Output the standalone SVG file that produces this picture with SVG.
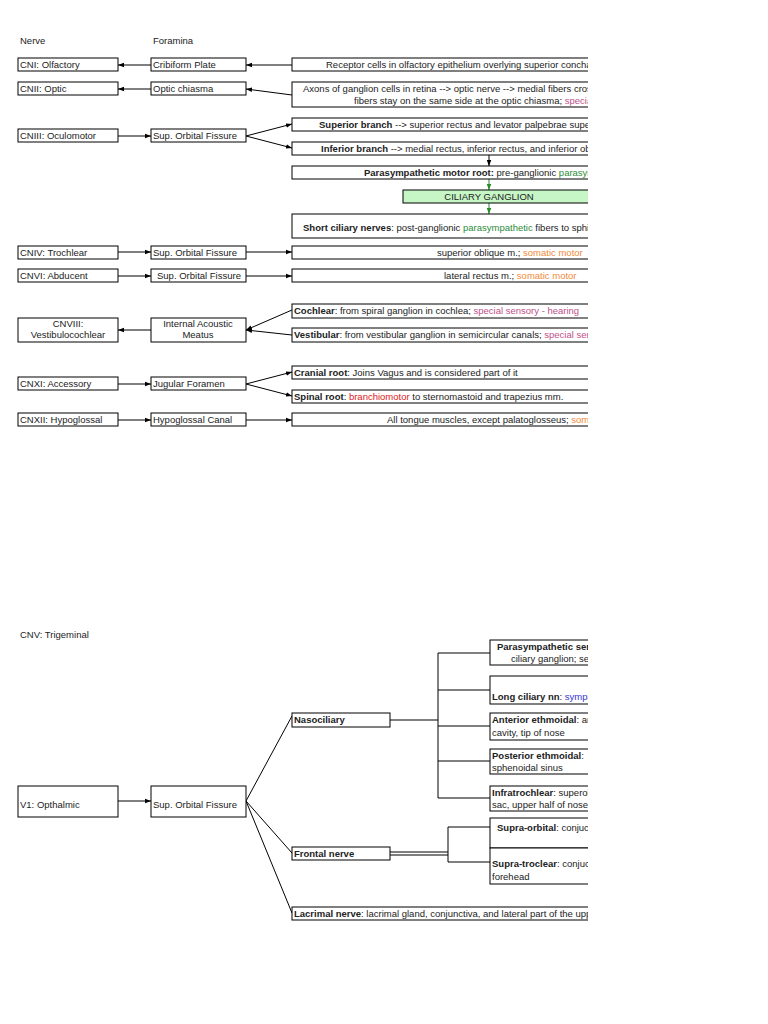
<svg xmlns="http://www.w3.org/2000/svg" width="768" height="1024" viewBox="0 0 768 1024">
<style>
text{font-family:"Liberation Sans",Arial,sans-serif;font-size:9.5px;fill:#222}
.b{font-weight:bold}
rect{fill:#fff;stroke:#000;stroke-width:1}
.g{fill:#c6f5c6}
line,polyline{stroke:#000;stroke-width:1;fill:none}
.gl{stroke:#2a8a2a}
.ss{fill:#c0508a}.sm{fill:#f08a3a}.ps{fill:#2e8b3a}.bm{fill:#e02020}.sy{fill:#3434d0}
</style>
<defs>
<marker id="a" viewBox="0 0 8 8" refX="8" refY="4" markerWidth="6" markerHeight="6" orient="auto"><path d="M0,1L8,4L0,7z" fill="#000"/></marker>
<marker id="ag" viewBox="0 0 8 8" refX="8" refY="4" markerWidth="6" markerHeight="6" orient="auto"><path d="M0,1L8,4L0,7z" fill="#2a8a2a"/></marker>
<clipPath id="c"><rect x="0" y="0" width="588" height="1024"/></clipPath>
</defs>
<rect x="0" y="0" width="768" height="1024" style="fill:#fff;stroke:none"/>
<text x="20" y="44">Nerve</text>
<text x="153" y="44">Foramina</text>
<text x="20" y="638">CNV: Trigeminal</text>
<g id="connectors">
<line x1="151" y1="65" x2="118" y2="65" marker-end="url(#a)"/>
<line x1="292" y1="65" x2="246" y2="65" marker-end="url(#a)"/>
<line x1="151" y1="89" x2="118" y2="89" marker-end="url(#a)"/>
<line x1="292" y1="95" x2="246" y2="89" marker-end="url(#a)"/>
<line x1="118" y1="136" x2="151" y2="136" marker-end="url(#a)"/>
<line x1="246" y1="136" x2="292" y2="124" marker-end="url(#a)"/>
<line x1="246" y1="136" x2="292" y2="148" marker-end="url(#a)"/>
<line x1="489" y1="155" x2="489" y2="166" marker-end="url(#a)"/>
<line class="gl" x1="489" y1="179" x2="489" y2="190" marker-end="url(#ag)"/>
<line class="gl" x1="489" y1="203" x2="489" y2="214" marker-end="url(#ag)"/>
<line x1="118" y1="252" x2="151" y2="252" marker-end="url(#a)"/>
<line x1="246" y1="252" x2="292" y2="252" marker-end="url(#a)"/>
<line x1="118" y1="276" x2="151" y2="276" marker-end="url(#a)"/>
<line x1="246" y1="276" x2="292" y2="276" marker-end="url(#a)"/>
<line x1="151" y1="330" x2="118" y2="330" marker-end="url(#a)"/>
<line x1="292" y1="310" x2="246" y2="330" marker-end="url(#a)"/>
<line x1="292" y1="335" x2="246" y2="330" marker-end="url(#a)"/>
<line x1="118" y1="384" x2="151" y2="384" marker-end="url(#a)"/>
<line x1="246" y1="384" x2="292" y2="372" marker-end="url(#a)"/>
<line x1="246" y1="384" x2="292" y2="396" marker-end="url(#a)"/>
<line x1="118" y1="420" x2="151" y2="420" marker-end="url(#a)"/>
<line x1="246" y1="420" x2="292" y2="420" marker-end="url(#a)"/>
<line x1="118" y1="801" x2="151" y2="801" marker-end="url(#a)"/>
<line x1="246" y1="801" x2="292" y2="716"/>
<line x1="246" y1="801" x2="292" y2="853"/>
<line x1="246" y1="801" x2="292" y2="913"/>
<line x1="390" y1="720" x2="438" y2="720"/>
<polyline points="490,653 438,653 438,798 490,798"/>
<line x1="438" y1="690" x2="490" y2="690"/>
<line x1="438" y1="726" x2="490" y2="726"/>
<line x1="438" y1="761" x2="490" y2="761"/>
<line x1="390" y1="852" x2="448" y2="852"/>
<line x1="390" y1="855" x2="448" y2="855"/>
<polyline points="490,827 448,827 448,862 490,862"/>
</g>
<g id="n-cn1"><rect x="18" y="58" width="100" height="13"/><text x="20" y="68">CNI: Olfactory</text></g>
<g id="f-cn1"><rect x="151" y="58" width="95" height="13"/><text x="153" y="68">Cribiform Plate</text></g>
<g id="n-cn2"><rect x="18" y="82" width="100" height="13"/><text x="20" y="92">CNII: Optic</text></g>
<g id="f-cn2"><rect x="151" y="82" width="95" height="13"/><text x="153" y="92">Optic chiasma</text></g>
<g id="n-cn3"><rect x="18" y="129" width="100" height="13"/><text x="20" y="139">CNIII: Oculomotor</text></g>
<g id="f-cn3"><rect x="151" y="129" width="95" height="13"/><text x="153" y="139">Sup. Orbital Fissure</text></g>
<g id="n-cn4"><rect x="18" y="246" width="100" height="13"/><text x="20" y="256">CNIV: Trochlear</text></g>
<g id="f-cn4"><rect x="151" y="246" width="95" height="13"/><text x="153" y="256">Sup. Orbital Fissure</text></g>
<g id="n-cn6"><rect x="18" y="269" width="100" height="13"/><text x="20" y="279">CNVI: Abducent</text></g>
<g id="f-cn6"><rect x="151" y="269" width="95" height="13"/><text x="157" y="279">Sup. Orbital Fissure</text></g>
<g id="n-cn8"><rect x="18" y="318" width="100" height="24"/><text x="68" y="327" text-anchor="middle">CNVIII:</text><text x="68" y="338" text-anchor="middle">Vestibulocochlear</text></g>
<g id="f-cn8"><rect x="151" y="318" width="95" height="24"/><text x="198" y="327" text-anchor="middle">Internal Acoustic</text><text x="198" y="338" text-anchor="middle">Meatus</text></g>
<g id="n-cn11"><rect x="18" y="377" width="100" height="13"/><text x="20" y="387">CNXI: Accessory</text></g>
<g id="f-cn11"><rect x="151" y="377" width="95" height="13"/><text x="153" y="387">Jugular Foramen</text></g>
<g id="n-cn12"><rect x="18" y="413" width="100" height="13"/><text x="20" y="423">CNXII: Hypoglossal</text></g>
<g id="f-cn12"><rect x="151" y="413" width="95" height="13"/><text x="153" y="423">Hypoglossal Canal</text></g>
<g id="n-v1"><rect x="18" y="786" width="100" height="31"/><text x="20" y="808">V1: Opthalmic</text></g>
<g id="f-v1"><rect x="151" y="786" width="95" height="31"/><text x="153" y="808">Sup. Orbital Fissure</text></g>
<g id="n-naso"><rect x="292" y="713" width="98" height="14"/><text x="294" y="723" class="b">Nasociliary</text></g>
<g id="n-frontal"><rect x="292" y="847" width="98" height="13"/><text x="294" y="857" class="b">Frontal nerve</text></g>
<g clip-path="url(#c)">
<g id="r-cn1"><rect x="292" y="58" width="320" height="13"/><text x="326" y="68">Receptor cells in olfactory epithelium overlying superior conchae</text></g>
<g id="r-cn2"><rect x="292" y="82" width="320" height="25"/><text x="303" y="92">Axons of ganglion cells in retina --&gt; optic nerve --&gt; medial fibers cross</text><text x="354" y="104">fibers stay on the same side at the optic chiasma; <tspan class="ss">special sensory</tspan></text></g>
<g id="r-sup"><rect x="292" y="118" width="320" height="13"/><text x="319" y="128"><tspan class="b">Superior branch</tspan> --&gt; superior rectus and levator palpebrae superioris</text></g>
<g id="r-inf"><rect x="292" y="142" width="320" height="13"/><text x="321" y="152"><tspan class="b">Inferior branch</tspan> --&gt; medial rectus, inferior rectus, and inferior oblique</text></g>
<g id="r-para"><rect x="292" y="166" width="320" height="13"/><text x="364" y="176"><tspan class="b">Parasympathetic motor root:</tspan> pre-ganglionic <tspan class="ps">parasympathetic</tspan></text></g>
<g id="r-cil"><rect class="g" x="403" y="190" width="209" height="13"/><text x="489" y="200" text-anchor="middle">CILIARY GANGLION</text></g>
<g id="r-short"><rect x="292" y="214" width="320" height="24"/><text x="303" y="231"><tspan class="b">Short ciliary nerves</tspan>: post-ganglionic <tspan class="ps">parasympathetic</tspan> fibers to sphincter</text></g>
<g id="r-cn4"><rect x="292" y="246" width="320" height="13"/><text x="437" y="256">superior oblique m.; <tspan class="sm">somatic motor</tspan></text></g>
<g id="r-cn6"><rect x="292" y="269" width="320" height="13"/><text x="444" y="279">lateral rectus m.; <tspan class="sm">somatic motor</tspan></text></g>
<g id="r-coch"><rect x="292" y="304" width="320" height="14"/><text x="294" y="314"><tspan class="b">Cochlear</tspan>: from spiral ganglion in cochlea; <tspan class="ss">special sensory - hearing</tspan></text></g>
<g id="r-vest"><rect x="292" y="328" width="320" height="14"/><text x="294" y="338"><tspan class="b">Vestibular</tspan>: from vestibular ganglion in semicircular canals; <tspan class="ss">special sensory</tspan></text></g>
<g id="r-cran"><rect x="292" y="366" width="320" height="13"/><text x="294" y="376"><tspan class="b">Cranial root</tspan>: Joins Vagus and is considered part of it</text></g>
<g id="r-spin"><rect x="292" y="390" width="320" height="13"/><text x="294" y="400"><tspan class="b">Spinal root</tspan>: <tspan class="bm">branchiomotor</tspan> to sternomastoid and trapezius mm.</text></g>
<g id="r-cn12"><rect x="292" y="413" width="320" height="13"/><text x="387" y="423">All tongue muscles, except palatoglosseus; <tspan class="sm">somatic motor</tspan></text></g>
<g id="r-parasens"><rect x="490" y="640" width="120" height="25"/><text x="497" y="650" class="b">Parasympathetic sensory</text><text x="511" y="662">ciliary ganglion; sensory</text></g>
<g id="r-long"><rect x="490" y="676" width="120" height="28"/><text x="492" y="700"><tspan class="b">Long ciliary nn</tspan>: <tspan class="sy">sympathetic</tspan></text></g>
<g id="r-ant"><rect x="490" y="713" width="120" height="27"/><text x="492" y="723"><tspan class="b">Anterior ethmoidal</tspan>: ant</text><text x="492" y="736">cavity, tip of nose</text></g>
<g id="r-post"><rect x="490" y="749" width="120" height="25"/><text x="492" y="759"><tspan class="b">Posterior ethmoidal</tspan>:</text><text x="492" y="771">sphenoidal sinus</text></g>
<g id="r-infra"><rect x="490" y="786" width="120" height="25"/><text x="492" y="796"><tspan class="b">Infratrochlear</tspan>: superolateral</text><text x="492" y="808">sac, upper half of nose</text></g>
<g id="r-supo"><rect x="490" y="818" width="120" height="30"/><text x="497" y="831"><tspan class="b">Supra-orbital</tspan>: conjuctiva</text></g>
<g id="r-supt"><rect x="490" y="848" width="120" height="36"/><text x="492" y="867"><tspan class="b">Supra-troclear</tspan>: conjuctiva</text><text x="492" y="880">forehead</text></g>
<g id="r-lac"><rect x="292" y="907" width="320" height="13"/><text x="294" y="917"><tspan class="b">Lacrimal nerve</tspan>: lacrimal gland, conjunctiva, and lateral part of the upper eyelid</text></g>
</g>
</svg>
